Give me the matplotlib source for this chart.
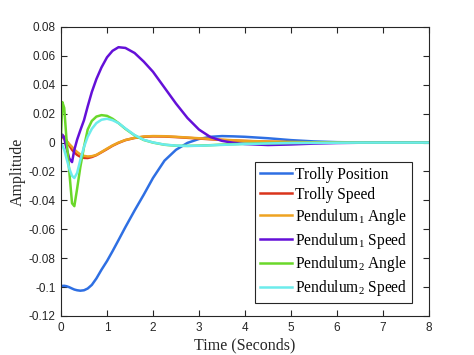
import matplotlib
matplotlib.use("Agg")
import matplotlib.pyplot as plt

t = [0, 0.03, 0.07, 0.12, 0.18, 0.24, 0.29, 0.35, 0.42, 0.5, 0.58, 0.67, 0.77, 0.88,
     1.0, 1.12, 1.25, 1.4, 1.6, 1.8, 2.0, 2.25, 2.5, 2.75, 3.0, 3.25, 3.5, 3.75,
     4.0, 4.5, 5.0, 5.5, 6.0, 6.5, 7.0, 8.0]

trolly_position = [-0.0993, -0.0992, -0.0991, -0.0994, -0.1001, -0.1010, -0.1017, -0.1022,
                   -0.1025, -0.1022, -0.1010, -0.0985, -0.0940, -0.0880, -0.0820, -0.0752,
                   -0.0675, -0.0585, -0.0470, -0.0360, -0.0245, -0.0125, -0.0050, -0.0002,
                   0.0025, 0.0040, 0.0045, 0.0043, 0.0040, 0.0030, 0.0017, 0.0008, 0.0003,
                   0.0001, 0.0, 0.0]
trolly_speed = [0.004, 0.005, 0.004, 0.0015, -0.002, -0.005, -0.0068, -0.0085, -0.0098,
                -0.0106, -0.0107, -0.0100, -0.0087, -0.0067, -0.0045, -0.0022, -0.0002,
                0.0017, 0.0032, 0.0040, 0.0043, 0.0042, 0.0038, 0.0033, 0.0028, 0.0023,
                0.0018, 0.0014, 0.0011, 0.0006, 0.0003, 0.0002, 0.0001, 0.0, 0.0, 0.0]
pend1_angle = [0.004, 0.0035, 0.0025, 0.001, -0.001, -0.003, -0.0048, -0.0065, -0.0082,
               -0.0092, -0.0096, -0.0094, -0.0085, -0.0065, -0.0042, -0.0020, 0.0, 0.0018,
               0.0033, 0.0042, 0.0045, 0.0044, 0.0040, 0.0035, 0.0030, 0.0025, 0.0020,
               0.0016, 0.0012, 0.0007, 0.0004, 0.0002, 0.0001, 0.0, 0.0, 0.0]
pend1_speed = [0.003, 0.0055, 0.003, -0.004, -0.011, -0.0135, -0.005, 0.002, 0.0085, 0.0155,
               0.025, 0.035, 0.044, 0.052, 0.059, 0.0635, 0.066, 0.0655, 0.062, 0.056, 0.049,
               0.038, 0.027, 0.017, 0.009, 0.0038, 0.0012, -0.0002, -0.0010, -0.0017,
               -0.0013, -0.0007, -0.0003, -0.0001, 0.0, 0.0]
pend2_angle = [0.005, 0.028, 0.024, 0.002, -0.020, -0.042, -0.044, -0.032, -0.017, -0.003,
               0.009, 0.015, 0.018, 0.019, 0.0185, 0.0165, 0.0135, 0.0095, 0.0050, 0.0018,
               0.0, -0.0015, -0.0022, -0.0023, -0.0021, -0.0018, -0.0014, -0.0011, -0.0008,
               -0.0004, -0.0002, -0.0001, 0.0, 0.0, 0.0, 0.0]
pend2_speed = [-0.001, -0.002, -0.005, -0.011, -0.018, -0.023, -0.0245, -0.021, -0.012,
               -0.003, 0.004, 0.0095, 0.0135, 0.0158, 0.0165, 0.0155, 0.0135, 0.0098, 0.0052,
               0.0019, 0.0001, -0.0014, -0.0021, -0.0023, -0.0022, -0.0019, -0.0016, -0.0013,
               -0.0010, -0.0006, -0.0003, -0.0002, -0.0001, 0.0, 0.0, 0.0]

labels = ["Trolly Position", "Trolly Speed", r"Pendulum$_1$ Angle", r"Pendulum$_1$ Speed",
          r"Pendulum$_2$ Angle", r"Pendulum$_2$ Speed"]
series = [trolly_position, trolly_speed, pend1_angle, pend1_speed, pend2_angle, pend2_speed]
colors = ["#2e6fe3", "#d9341c", "#eea321", "#6410d8", "#6ad82a", "#6cecec"]

xticks = [0, 1, 2, 3, 4, 5, 6, 7, 8]
yticks = [-0.12, -0.1, -0.08, -0.06, -0.04, -0.02, 0, 0.02, 0.04, 0.06, 0.08]
ytick_labels = ["-0.12", "-0.1", "-0.08", "-0.06", "-0.04", "-0.02", "0", "0.02", "0.04",
                "0.06", "0.08"]

plt.rcParams['mathtext.fontset'] = 'custom'
plt.rcParams['mathtext.rm'] = 'Liberation Serif'
plt.rcParams['mathtext.it'] = 'Liberation Serif:italic'

fig = plt.figure(figsize=(4.74, 3.55), dpi=100)
ax = fig.add_axes([0.1287, 0.1099, 0.7763, 0.8141])

for y, c, lab in zip(series, colors, labels):
    ax.plot(t, y, color=c, lw=1.8, label=lab, solid_joinstyle='round')

ax.set_xlim(0, 8)
ax.set_ylim(-0.12, 0.08)
ax.set_xticks(xticks)
ax.set_xticklabels([str(v) for v in xticks], family='Liberation Sans', fontsize=8.5, color='#262626')
ax.set_yticks(yticks)
ax.set_yticklabels(ytick_labels, family='Liberation Sans', fontsize=8.5, color='#262626')
ax.tick_params(direction='in', top=True, right=True, length=4, width=0.8, colors='#262626',
               labelcolor='#262626', pad=4)
for s in ax.spines.values():
    s.set_color('#262626')
    s.set_linewidth(0.8)

ax.set_xlabel("Time (Seconds)", family='Liberation Serif', fontsize=11.5, color='#262626', labelpad=3)
ax.set_ylabel("Amplitude", family='Liberation Serif', fontsize=11.5, color='#262626', labelpad=2)

leg = ax.legend(loc='lower right', bbox_to_anchor=(0.954, 0.045), borderaxespad=0,
                prop={'family': 'Liberation Serif', 'size': 11.2}, frameon=True, fancybox=False,
                edgecolor='#262626', framealpha=1, handlelength=2.05, handletextpad=0.2,
                labelspacing=0.25, borderpad=0.3)
leg.get_frame().set_linewidth(0.8)

fig.savefig("out.png", dpi=100)
